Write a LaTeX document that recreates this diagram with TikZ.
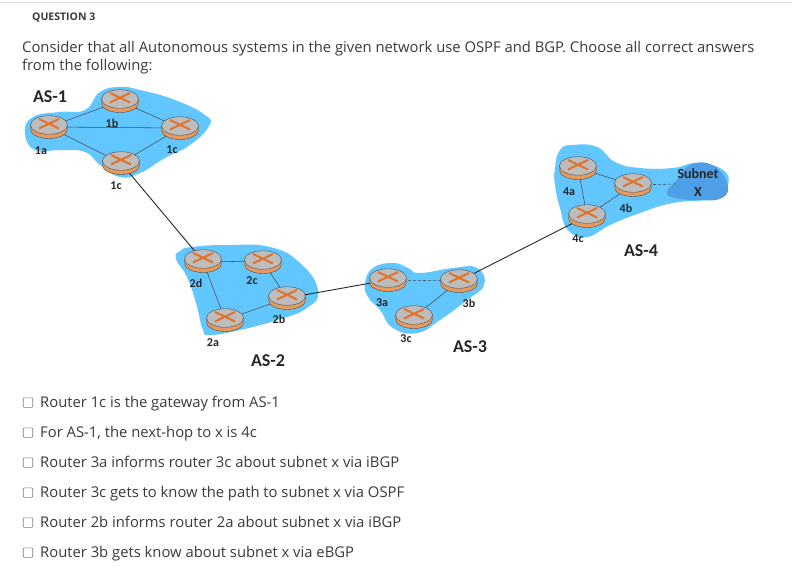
\documentclass[tikz,border=0pt]{standalone}
\usepackage{fontspec}
\setmainfont{Open Sans}
\newfontfamily\labelfont{Carlito}
\definecolor{blobblue}{HTML}{62C6FF}
\definecolor{subnetblue}{HTML}{4F9FE6}
\definecolor{routertop}{HTML}{BDBDBD}
\definecolor{routerside}{HTML}{E89A5C}
\definecolor{routerx}{HTML}{E2722A}
\definecolor{textgrey}{HTML}{3A3A3A}
\tikzset{
  routerpos/.style={circle,minimum size=18pt,inner sep=0pt},
  blob/.style={fill=blobblue,draw=none},
  lan/.style={draw=black!70,line width=0.55pt},
  wan/.style={draw=black!85,line width=0.9pt},
  rlabel/.style={font=\labelfont\bfseries\fontsize{12}{12}\selectfont,text=black!85,inner sep=0pt},
  aslabel/.style={font=\labelfont\bfseries\fontsize{18}{18}\selectfont,text=black!85,inner sep=0pt},
  bodytext/.style={font=\fontsize{14.8}{17}\selectfont,text=textgrey,anchor=base west,inner sep=0pt},
  checkbox/.style={draw=black!50,fill=white,line width=0.7pt,rounded corners=1pt,minimum size=9.5pt,inner sep=0pt},
}
\newcommand{\routerat}[1]{%
  \begin{scope}[shift={(#1)}]
    \draw[fill=routerside,draw=black!70,line width=0.4pt] (-18.5,-2) -- (-18.5,2.2) arc[start angle=180,end angle=0,x radius=18.5,y radius=9.3] -- (18.5,-2) -- cycle;
    \draw[fill=routertop,draw=black!70,line width=0.4pt] (0,-2) ellipse[x radius=18.5,y radius=9.3];
    \draw[routerx,line width=2pt] (-10,-8) -- (10,1.5) (-10,1.5) -- (10,-8);
  \end{scope}}
\begin{document}
\begin{tikzpicture}[x=1pt,y=-1pt]
\useasboundingbox (0,0) rectangle (792,588);
\fill[white] (0,0) rectangle (792,588);
\draw[black!12,line width=0.6pt] (0,2) -- (792,2);

% AS areas
\draw[blob] plot[smooth cycle,tension=0.8] coordinates {(25,133) (33,117) (60,112) (85,110) (100,92) (120,87) (140,90) (175,100) (205,115) (209,126) (190,145) (165,158) (140,173) (120,177) (100,165) (85,152) (60,150) (35,150)};
\draw[blob] plot[smooth cycle,tension=0.8] coordinates {(176,259) (180,251) (192,247) (227,245) (270,247) (300,263) (318,290) (307,308) (277,320) (240,330) (210,335) (203,330) (196,303) (187,277)};
\draw[blob] plot[smooth cycle,tension=0.8] coordinates {(365,283) (373,268) (393,263) (408,268) (420,273) (453,268) (477,268) (484,285) (467,300) (440,320) (417,333) (393,328) (380,310) (368,297)};
\draw[blob] plot[smooth cycle,tension=0.8] coordinates {(555,168) (560,150) (573,145) (597,147) (615,162) (640,168) (673,168) (697,163) (723,170) (728,185) (717,198) (673,203) (640,213) (610,225) (587,237) (568,230) (560,208) (555,185)};
\fill[subnetblue] plot[smooth cycle,tension=0.8] coordinates {(667,192) (677,180) (690,165) (712,165) (727,183) (722,198) (697,200) (675,198)};

% router positions
\node[routerpos] (r1a) at (49,127) {};
\node[routerpos] (r1b) at (120,101) {};
\node[routerpos] (r1r) at (180,128) {};
\node[routerpos] (r1g) at (121,163) {};
\node[routerpos] (r2d) at (203,261) {};
\node[routerpos] (r2c) at (263,262) {};
\node[routerpos] (r2b) at (287,298) {};
\node[routerpos] (r2a) at (225,320) {};
\node[routerpos] (r3a) at (388,280) {};
\node[routerpos] (r3b) at (459,281) {};
\node[routerpos] (r3c) at (414,317) {};
\node[routerpos] (r4a) at (578,168) {};
\node[routerpos] (r4b) at (633,185) {};
\node[routerpos] (r4c) at (587,216) {};
\coordinate (subnetend) at (676,184);

% links
\draw[lan] (r1a.center) -- (r1b.center);
\draw[lan] (r1a.center) -- (r1r.center);
\draw[lan] (r1a.center) -- (r1g.center);
\draw[lan] (r1b.center) -- (r1r.center);
\draw[lan] (r1r.center) -- (r1g.center);
\draw[lan] (r2d.center) -- (r2c.center);
\draw[lan] (r2c.center) -- (r2b.center);
\draw[lan] (r2b.center) -- (r2a.center);
\draw[lan] (r2a.center) -- (r2d.center);
\draw[lan,densely dashed] (r3a.center) -- (r3b.center);
\draw[lan] (r3b.center) -- (r3c.center);
\draw[lan] (r4a.center) -- (r4b.center);
\draw[lan] (r4a.center) -- (r4c.center);
\draw[lan] (r4b.center) -- (r4c.center);
\draw[lan,densely dashed] (r4b.center) -- (subnetend);
\draw[wan] (r1g.center) -- (r2d.center);
\draw[wan] (r2b.center) -- (r3a.center);
\draw[wan] (r3b.center) -- (r4c.center);

% routers
\foreach \r in {r1a,r1b,r1r,r1g,r2d,r2c,r2b,r2a,r3a,r3b,r3c,r4a,r4b,r4c}{\routerat{\r}}

% router labels
\node[rlabel] (l1a) at (41,151) {1a};
\node[rlabel] (l1b) at (112,123) {1b};
\node[rlabel] (l1r) at (172,150) {1c};
\node[rlabel] (l1g) at (116,186) {1c};
\node[rlabel] (l2d) at (196,283) {2d};
\node[rlabel] (l2c) at (252,281) {2c};
\node[rlabel] (l2b) at (279,319) {2b};
\node[rlabel] (l2a) at (213,343) {2a};
\node[rlabel] (l3a) at (382,303) {3a};
\node[rlabel] (l3b) at (469,303) {3b};
\node[rlabel] (l3c) at (406,339) {3c};
\node[rlabel] (l4a) at (569,192) {4a};
\node[rlabel] (l4b) at (626,208) {4b};
\node[rlabel] (l4c) at (578,239) {4c};
\node[rlabel,font=\labelfont\bfseries\fontsize{14}{14}\selectfont] (subnet) at (698,174) {Subnet};
\node[rlabel,font=\labelfont\bfseries\fontsize{14}{14}\selectfont] (subnetx) at (698,192) {X};
\node[aslabel] (as1) at (50,97) {AS-1};
\node[aslabel] (as2) at (268,361) {AS-2};
\node[aslabel] (as3) at (470,347) {AS-3};
\node[aslabel] (as4) at (641,251) {AS-4};

% question text
\node[font=\bfseries\fontsize{10.5}{12}\selectfont,text=textgrey,anchor=base west,inner sep=0pt] (qtitle) at (32,20.5) {QUESTION 3};
\node[bodytext] (q1) at (22,53) {Consider that all Autonomous systems in the given network use OSPF and BGP. Choose all correct answers};
\node[bodytext] (q2) at (22,71) {from the following:};

\node[checkbox] (c1) at (28,402.6) {};
\node[checkbox] (c2) at (28,432.6) {};
\node[checkbox] (c3) at (28,462.6) {};
\node[checkbox] (c4) at (28,492.6) {};
\node[checkbox] (c5) at (28,522.6) {};
\node[checkbox] (c6) at (28,552.6) {};
\node[bodytext] (a1) at (40,407) {Router 1c is the gateway from AS-1};
\node[bodytext] (a2) at (40,437) {For AS-1, the next-hop to x is 4c};
\node[bodytext] (a3) at (40,467) {Router 3a informs router 3c about subnet x via iBGP};
\node[bodytext] (a4) at (40,497) {Router 3c gets to know the path to subnet x via OSPF};
\node[bodytext] (a5) at (40,527) {Router 2b informs router 2a about subnet x via iBGP};
\node[bodytext] (a6) at (40,557) {Router 3b gets know about subnet x via eBGP};
\end{tikzpicture}
\end{document}
